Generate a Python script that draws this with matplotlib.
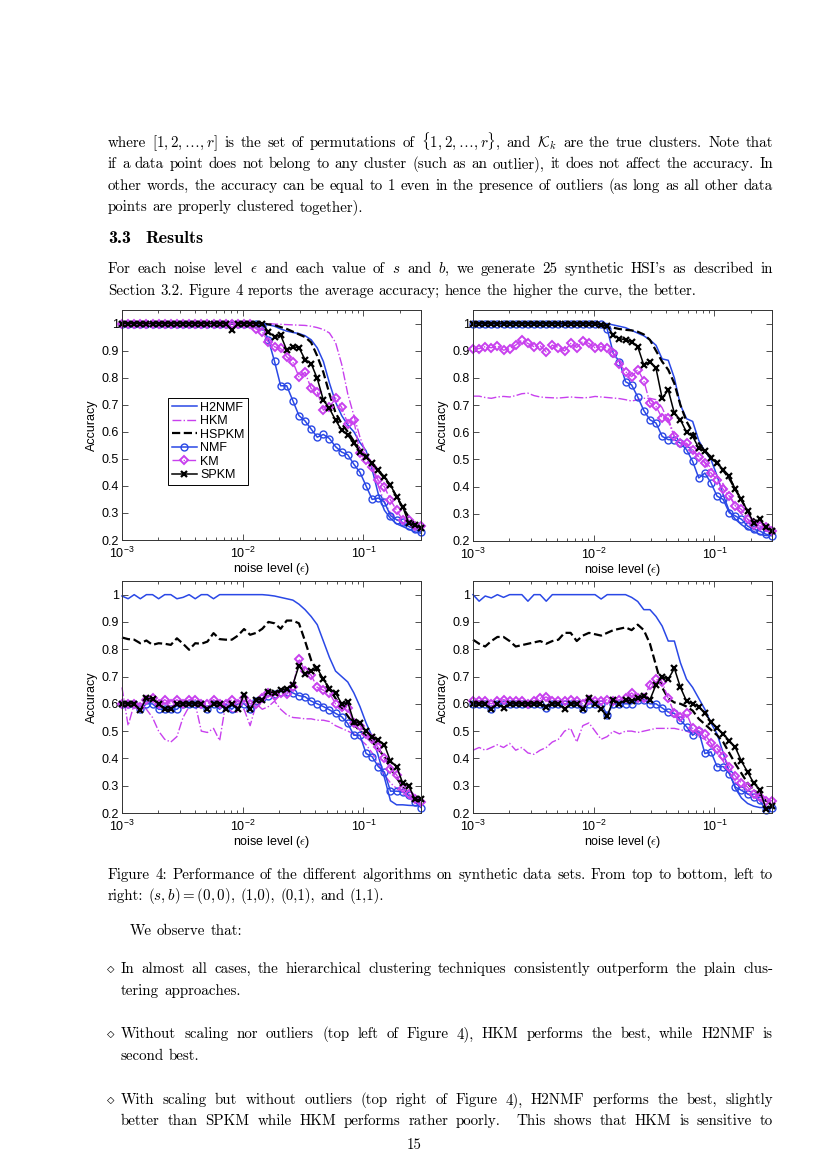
import numpy as np
import matplotlib
matplotlib.use('Agg')
import matplotlib.pyplot as plt
from matplotlib.ticker import LogLocator, NullFormatter

# ---------------- data ----------------
noise = [0.001, 0.001124, 0.001262, 0.001418, 0.001593, 0.001790, 0.002011, 0.002259, 0.002538, 0.002851,
         0.003203, 0.003598, 0.004042, 0.004541, 0.005102, 0.005731, 0.006439, 0.007233, 0.008126, 0.009130,
         0.01026, 0.01152, 0.01294, 0.01454, 0.01634, 0.01835, 0.02062, 0.02316, 0.02602, 0.02924,
         0.03284, 0.03690, 0.04145, 0.04657, 0.05232, 0.05877, 0.06603, 0.07418, 0.08334, 0.09363,
         0.1052, 0.1182, 0.1328, 0.1492, 0.1676, 0.1883, 0.2115, 0.2376, 0.2670, 0.3000]

methods = ['H2NMF', 'HKM', 'HSPKM', 'NMF', 'KM', 'SPKM']

# (s,b) = (0,0)
h2nmf_00 = [1.0]*24 + [0.995, 0.99, 0.98, 0.972, 0.967, 0.963, 0.955, 0.94, 0.91, 0.86, 0.78, 0.71, 0.66,
                       0.625, 0.6, 0.56, 0.53, 0.46, 0.37, 0.31, 0.28, 0.26, 0.25, 0.24, 0.23, 0.225]
hkm_00 = [1.0]*25 + [0.998, 0.997, 0.996, 0.995, 0.994, 0.993, 0.99, 0.985, 0.978, 0.965, 0.93, 0.85, 0.74,
                     0.66, 0.58, 0.52, 0.47, 0.40, 0.34, 0.30, 0.275, 0.26, 0.25, 0.245, 0.24]
hspkm_00 = [1.0]*24 + [0.997, 0.994, 0.987, 0.98, 0.97, 0.96, 0.95, 0.93, 0.88, 0.82, 0.74, 0.67, 0.63,
                       0.6, 0.565, 0.535, 0.51, 0.48, 0.455, 0.43, 0.40, 0.36, 0.32, 0.285, 0.26, 0.245]
nmf_00 = [1.0]*23 + [0.99, 0.94, 0.86, 0.77, 0.77, 0.715, 0.66, 0.64, 0.61, 0.58, 0.59, 0.575, 0.545, 0.525,
                     0.515, 0.48, 0.45, 0.40, 0.35, 0.355, 0.34, 0.29, 0.275, 0.265, 0.25, 0.24, 0.23]
km_00 = [1.0]*22 + [0.98, 0.97, 0.93, 0.914, 0.908, 0.877, 0.858, 0.803, 0.82, 0.76, 0.748, 0.68, 0.69, 0.725,
                    0.69, 0.63, 0.643, 0.52, 0.495, 0.47, 0.42, 0.397, 0.348, 0.31, 0.274, 0.274, 0.25, 0.25]
spkm_00 = [1.0]*18 + [0.975] + [1.0]*5 + [0.969, 0.951, 0.957, 0.902, 0.914, 0.911, 0.867, 0.852, 0.797, 0.717,
                                         0.686, 0.643, 0.606, 0.588, 0.557, 0.526, 0.508, 0.483, 0.458, 0.434,
                                         0.403, 0.36, 0.323, 0.262, 0.255, 0.245]

# (s,b) = (1,0)
h2nmf_10 = [1.0]*23 + [0.995, 0.99, 0.985, 0.975, 0.965, 0.955, 0.94, 0.92, 0.87, 0.865, 0.80, 0.70, 0.65, 0.64,
                       0.57, 0.53, 0.50, 0.44, 0.37, 0.31, 0.28, 0.26, 0.245, 0.235, 0.225, 0.22, 0.22]
hkm_10 = [0.733, 0.733, 0.728, 0.725, 0.73, 0.732, 0.73, 0.735, 0.742, 0.744,
          0.735, 0.73, 0.728, 0.727, 0.726, 0.728, 0.73, 0.728, 0.727, 0.728,
          0.732, 0.73, 0.728, 0.726, 0.724, 0.72, 0.715, 0.72, 0.725, 0.725,
          0.72, 0.69, 0.64, 0.585, 0.565, 0.555, 0.53, 0.51, 0.49, 0.47,
          0.44, 0.41, 0.37, 0.33, 0.30, 0.28, 0.265, 0.255, 0.245, 0.24]
hspkm_10 = [1.0]*21 + [0.995, 0.99, 0.985, 0.98, 0.977, 0.975, 0.97, 0.96, 0.94, 0.90, 0.86, 0.83, 0.78, 0.70,
                       0.64, 0.6, 0.56, 0.53, 0.51, 0.49, 0.46, 0.43, 0.39, 0.35, 0.31, 0.28, 0.26, 0.245, 0.235]
nmf_10 = [1.0]*22 + [0.98, 0.89, 0.86, 0.786, 0.774, 0.73, 0.68, 0.646, 0.634, 0.585, 0.573, 0.573, 0.56, 0.536,
                     0.493, 0.432, 0.45, 0.414, 0.365, 0.353, 0.304, 0.292, 0.28, 0.255, 0.243, 0.237, 0.225, 0.22]
km_10 = [0.908, 0.908, 0.915, 0.911, 0.918, 0.902, 0.908, 0.921, 0.939, 0.927,
         0.915, 0.918, 0.896, 0.921, 0.912, 0.899, 0.927, 0.912, 0.935, 0.927,
         0.911, 0.915, 0.91, 0.89, 0.853, 0.823, 0.805, 0.83, 0.79, 0.707,
         0.695, 0.652, 0.652, 0.585, 0.56, 0.56, 0.536, 0.51, 0.487, 0.45,
         0.426, 0.39, 0.365, 0.33, 0.316, 0.28, 0.26, 0.255, 0.25, 0.237]
spkm_10 = [1.0]*21 + [0.995, 0.99, 0.957, 0.945, 0.94, 0.933, 0.915, 0.847, 0.86, 0.835, 0.725, 0.756, 0.67,
                      0.646, 0.6, 0.585, 0.542, 0.53, 0.505, 0.487, 0.463, 0.438, 0.39, 0.353, 0.31, 0.267,
                      0.28, 0.25, 0.237]

# (s,b) = (0,1)
h2nmf_01 = [0.995, 0.985, 1.0, 0.985, 1.0, 1.0, 0.985, 1.0, 1.0, 0.985, 0.99, 1.0, 0.985, 1.0, 1.0, 0.985] + \
           [1.0]*8 + [0.998, 0.995, 0.99, 0.985, 0.98, 0.965, 0.945, 0.92, 0.89, 0.83, 0.77, 0.72, 0.70,
                      0.68, 0.64, 0.59, 0.53, 0.48, 0.41, 0.33, 0.245, 0.23, 0.23, 0.228, 0.227, 0.225]
hkm_01 = [0.66, 0.52, 0.6, 0.6, 0.58, 0.55, 0.5, 0.47, 0.46, 0.48,
          0.55, 0.59, 0.6, 0.5, 0.495, 0.51, 0.465, 0.6, 0.57, 0.57,
          0.58, 0.52, 0.6, 0.58, 0.59, 0.61, 0.58, 0.56, 0.55, 0.548,
          0.545, 0.545, 0.54, 0.54, 0.535, 0.52, 0.51, 0.50, 0.49, 0.47,
          0.45, 0.42, 0.38, 0.34, 0.31, 0.29, 0.27, 0.255, 0.245, 0.235]
hspkm_01 = [0.843, 0.837, 0.835, 0.822, 0.832, 0.816, 0.822, 0.82, 0.816, 0.84,
            0.82, 0.798, 0.822, 0.82, 0.828, 0.859, 0.837, 0.835, 0.835, 0.85,
            0.874, 0.853, 0.86, 0.875, 0.9, 0.895, 0.875, 0.905, 0.905, 0.895,
            0.83, 0.76, 0.72, 0.69, 0.655, 0.62, 0.585, 0.555, 0.525, 0.5,
            0.485, 0.46, 0.435, 0.405, 0.365, 0.33, 0.295, 0.27, 0.25, 0.245]
nmf_01 = [0.6, 0.6, 0.6, 0.58, 0.6, 0.6, 0.58, 0.58, 0.58, 0.58,
          0.6, 0.6, 0.6, 0.6, 0.58, 0.6, 0.58, 0.6, 0.58, 0.6,
          0.6, 0.58, 0.61, 0.62, 0.63, 0.635, 0.645, 0.645, 0.64, 0.63,
          0.626, 0.61, 0.6, 0.59, 0.578, 0.565, 0.553, 0.528, 0.485, 0.485,
          0.418, 0.406, 0.37, 0.35, 0.28, 0.28, 0.277, 0.265, 0.24, 0.22]
km_01 = [0.6, 0.6, 0.6, 0.59, 0.615, 0.62, 0.6, 0.615, 0.6, 0.615,
         0.6, 0.615, 0.615, 0.6, 0.6, 0.615, 0.6, 0.6, 0.615, 0.6,
         0.62, 0.6, 0.6, 0.62, 0.64, 0.63, 0.64, 0.635, 0.66, 0.765,
         0.72, 0.705, 0.66, 0.65, 0.64, 0.6, 0.59, 0.585, 0.53, 0.52,
         0.49, 0.47, 0.44, 0.4, 0.36, 0.34, 0.29, 0.27, 0.25, 0.24]
spkm_01 = [0.6, 0.6, 0.6, 0.578, 0.62, 0.618, 0.6, 0.58, 0.58, 0.6,
           0.6, 0.6, 0.6, 0.6, 0.58, 0.6, 0.6, 0.58, 0.6, 0.58,
           0.633, 0.58, 0.615, 0.615, 0.645, 0.64, 0.65, 0.656, 0.67, 0.74,
           0.71, 0.72, 0.73, 0.69, 0.656, 0.64, 0.6, 0.605, 0.535, 0.53,
           0.5, 0.48, 0.467, 0.45, 0.39, 0.37, 0.31, 0.3, 0.25, 0.25]

# (s,b) = (1,1)
h2nmf_11 = [1.0, 0.976, 0.995, 0.988, 1.0, 0.99, 1.0, 1.0, 1.0, 0.976,
            1.0, 1.0, 0.976, 1.0, 1.0, 1.0, 1.0, 1.0, 1.0, 1.0,
            1.0, 0.984, 1.0, 1.0, 1.0, 1.0, 0.99, 0.975, 0.945, 0.945,
            0.92, 0.885, 0.83, 0.83, 0.75, 0.69, 0.66, 0.62, 0.58, 0.53,
            0.49, 0.42, 0.35, 0.29, 0.255, 0.235, 0.225, 0.22, 0.22, 0.22]
hkm_11 = [0.43, 0.44, 0.43, 0.44, 0.45, 0.44, 0.455, 0.43, 0.44, 0.42,
          0.415, 0.43, 0.44, 0.46, 0.47, 0.5, 0.51, 0.46, 0.52, 0.53,
          0.5, 0.47, 0.48, 0.5, 0.49, 0.5, 0.5, 0.495, 0.5, 0.505,
          0.51, 0.51, 0.51, 0.51, 0.505, 0.5, 0.49, 0.48, 0.47, 0.45,
          0.42, 0.39, 0.35, 0.31, 0.29, 0.27, 0.26, 0.25, 0.245, 0.24]
hspkm_11 = [0.835, 0.82, 0.81, 0.83, 0.845, 0.845, 0.83, 0.81, 0.815, 0.82,
            0.825, 0.83, 0.82, 0.83, 0.835, 0.86, 0.86, 0.83, 0.85, 0.86,
            0.855, 0.85, 0.86, 0.87, 0.875, 0.88, 0.87, 0.89, 0.87, 0.82,
            0.74, 0.66, 0.62, 0.605, 0.6, 0.59, 0.575, 0.545, 0.525, 0.505,
            0.485, 0.46, 0.42, 0.38, 0.345, 0.31, 0.285, 0.265, 0.245, 0.235]
nmf_11 = [0.6, 0.6, 0.6, 0.58, 0.6, 0.6, 0.6, 0.6, 0.6, 0.6,
          0.6, 0.6, 0.585, 0.6, 0.6, 0.6, 0.6, 0.6, 0.58, 0.6,
          0.6, 0.6, 0.56, 0.6, 0.6, 0.6, 0.6, 0.615, 0.615, 0.6,
          0.6, 0.585, 0.57, 0.565, 0.54, 0.516, 0.485, 0.5, 0.418, 0.424,
          0.37, 0.37, 0.344, 0.295, 0.283, 0.27, 0.26, 0.246, 0.21, 0.22]
km_11 = [0.61, 0.61, 0.61, 0.6, 0.61, 0.615, 0.61, 0.61, 0.61, 0.6,
         0.61, 0.62, 0.625, 0.61, 0.61, 0.61, 0.615, 0.61, 0.6, 0.615,
         0.61, 0.61, 0.615, 0.61, 0.615, 0.62, 0.64, 0.62, 0.62, 0.67,
         0.69, 0.68, 0.62, 0.565, 0.55, 0.565, 0.51, 0.5, 0.49, 0.455,
         0.436, 0.41, 0.37, 0.335, 0.31, 0.295, 0.27, 0.26, 0.245, 0.245]
spkm_11 = [0.6, 0.6, 0.6, 0.58, 0.6, 0.585, 0.6, 0.6, 0.6, 0.6,
           0.6, 0.6, 0.59, 0.6, 0.6, 0.58, 0.6, 0.6, 0.58, 0.62,
           0.6, 0.58, 0.555, 0.615, 0.6, 0.615, 0.61, 0.62, 0.63, 0.615,
           0.67, 0.70, 0.69, 0.73, 0.66, 0.61, 0.6, 0.59, 0.565, 0.535,
           0.51, 0.49, 0.465, 0.44, 0.39, 0.35, 0.31, 0.285, 0.215, 0.225]

ytick_vals = [0.2, 0.3, 0.4, 0.5, 0.6, 0.7, 0.8, 0.9, 1.0]
ytick_labels = ['0.2', '0.3', '0.4', '0.5', '0.6', '0.7', '0.8', '0.9', '1']
xtick_vals = [1e-3, 1e-2, 1e-1]
xtick_labels = [r'$\mathregular{10^{-3}}$', r'$\mathregular{10^{-2}}$', r'$\mathregular{10^{-1}}$']

# ---------------- figure ----------------
plt.rcParams['font.family'] = ['Liberation Sans', 'DejaVu Sans']
plt.rcParams['mathtext.fontset'] = 'cm'

W, H = 827, 1169
fig = plt.figure(figsize=(W / 100, H / 100), dpi=100)
fig.patch.set_facecolor('white')

BLUE = '#2a48e6'
MAG = '#c840ee'


def add_ax(x0, x1, y0, y1):
    return fig.add_axes([x0 / W, 1 - y1 / H, (x1 - x0) / W, (y1 - y0) / H])


def draw_panel(ax, h2nmf, hkm, hspkm, nmf, km, spkm, legend=False):
    x = noise
    lines = []
    lines += ax.plot(x, h2nmf, '-', color=BLUE, lw=1.1, label=methods[0])
    lines += ax.plot(x, hkm, '-.', color=MAG, lw=1.0, label=methods[1])
    lines += ax.plot(x, hspkm, '--', color='black', lw=1.6, label=methods[2])
    lines += ax.plot(x, nmf, '-', color=BLUE, lw=1.1, marker='o', ms=5, mfc='none',
                     mec=BLUE, mew=1.0, label=methods[3])
    lines += ax.plot(x, km, '-.', color=MAG, lw=1.0, marker='D', ms=4.3, mfc='none',
                     mec=MAG, mew=1.4, label=methods[4])
    lines += ax.plot(x, spkm, '-', color='black', lw=1.1, marker='x', ms=5, mew=1.6,
                     label=methods[5])
    for ln in lines:
        ln.set_clip_on(False)
    ax.set_xscale('log')
    ax.set_xlim(1e-3, 0.3)
    ax.set_ylim(0.2, 1.05)
    ax.set_xticks(xtick_vals)
    ax.set_xticklabels(xtick_labels)
    ax.xaxis.set_minor_locator(LogLocator(base=10, subs=np.arange(2, 10)))
    ax.xaxis.set_minor_formatter(NullFormatter())
    ax.set_yticks(ytick_vals)
    ax.set_yticklabels(ytick_labels)
    ax.tick_params(which='both', direction='in', top=True, right=True, labelsize=9,
                   width=0.6, color='#333333')
    ax.tick_params(axis='y', pad=2)
    ax.tick_params(axis='x', pad=4)
    ax.tick_params(which='major', length=4)
    ax.tick_params(which='minor', length=2)
    for sp in ax.spines.values():
        sp.set_linewidth(0.7)
        sp.set_color('#333333')
    ax.set_xlabel(r'noise level ($\epsilon$)', fontsize=9, labelpad=0)
    ax.set_ylabel('Accuracy', fontsize=9, labelpad=3)
    if legend:
        ax.legend(loc='upper left', bbox_to_anchor=(0.154, 0.617), fontsize=9,
                  frameon=True, fancybox=False, edgecolor='black', framealpha=1,
                  borderpad=0.3, labelspacing=0.12, handlelength=2.0,
                  handletextpad=0.25, borderaxespad=0)
        ax.get_legend().get_frame().set_linewidth(0.7)


ax1 = add_ax(122, 421, 310, 540)
draw_panel(ax1, h2nmf_00, hkm_00, hspkm_00, nmf_00, km_00, spkm_00, legend=True)
ax2 = add_ax(473, 772, 310, 541)
draw_panel(ax2, h2nmf_10, hkm_10, hspkm_10, nmf_10, km_10, spkm_10)
ax3 = add_ax(122, 421, 581, 813)
draw_panel(ax3, h2nmf_01, hkm_01, hspkm_01, nmf_01, km_01, spkm_01)
ax4 = add_ax(473, 772, 581, 813)
draw_panel(ax4, h2nmf_11, hkm_11, hspkm_11, nmf_11, km_11, spkm_11)

# ---------------- page text ----------------
renderer = fig.canvas.get_renderer()
RM = 'cmr10'
BF = 'cmb10'


def width_of(s, size, family):
    t = fig.text(0, 0, s, fontsize=size, family=family, math_fontfamily='cm')
    w = t.get_window_extent(renderer).width
    t.remove()
    return w


# scale the roman font so that a known (unjustified) line has the reference width
ref_line = 'Section 3.2. Figure 4 reports the average accuracy; hence the higher the curve, the better.'
ref_w = width_of(ref_line, 10, RM)
SIZE = 10 * 590.0 / ref_w
SPACE = width_of('a a', SIZE, RM) - width_of('aa', SIZE, RM)


def put_line(line, py, x0=108, x1=773, justify=True, size=None, family=RM):
    size = SIZE if size is None else size
    words = line.split(' ')
    objs = [fig.text(0, 1 - py / H, w, fontsize=size, family=family, math_fontfamily='cm',
                     va='baseline', ha='left') for w in words]
    ws = [o.get_window_extent(renderer).width for o in objs]
    if justify and len(words) > 1:
        gap = (x1 - x0 - sum(ws)) / (len(words) - 1)
    else:
        gap = SPACE
    x = x0
    for o, w in zip(objs, ws):
        o.set_x(x / W)
        x += w + gap


put_line(r'where $[1,2,\ldots,r]$ is the set of permutations of $\{1,2,\ldots,r\}$, and $\mathcal{K}_k$ are the true clusters. Note that', 147)
put_line('if a data point does not belong to any cluster (such as an outlier), it does not affect the accuracy. In', 168)
put_line('other words, the accuracy can be equal to 1 even in the presence of outliers (as long as all other data', 190)
put_line('points are properly clustered together).', 211, justify=False)

fig.text(108 / W, 1 - 243 / H, '3.3', fontsize=SIZE * 1.2, family=BF, va='baseline')
fig.text(145 / W, 1 - 243 / H, 'Results', fontsize=SIZE * 1.2, family=BF, va='baseline')

put_line(r"For each noise level $\epsilon$ and each value of $s$ and $b$, we generate 25 synthetic HSI's as described in", 273)
put_line(ref_line, 295, justify=False)

put_line('Figure 4: Performance of the different algorithms on synthetic data sets. From top to bottom, left to', 879)
put_line(r'right: $(s,b)=(0,0)$, (1,0), (0,1), and (1,1).', 900, justify=False)

put_line('We observe that:', 935, x0=130, justify=False)

for py in (973, 1038, 1104):
    fig.text(106 / W, 1 - py / H, r'$\diamond$', fontsize=SIZE, math_fontfamily='cm', va='baseline')

put_line('In almost all cases, the hierarchical clustering techniques consistently outperform the plain clus-', 973, x0=121)
put_line('tering approaches.', 995, x0=121, justify=False)
put_line('Without scaling nor outliers (top left of Figure 4), HKM performs the best, while H2NMF is', 1038, x0=121)
put_line('second best.', 1060, x0=121, justify=False)
put_line('With scaling but without outliers (top right of Figure 4), H2NMF performs the best, slightly', 1104, x0=121)
put_line('better than SPKM while HKM performs rather poorly.  This shows that HKM is sensitive to', 1125, x0=121)

fig.text(414 / W, 1 - 1149 / H, '15', fontsize=SIZE, family=RM, va='baseline', ha='center')

fig.savefig('out.png', dpi=100, facecolor='white')
